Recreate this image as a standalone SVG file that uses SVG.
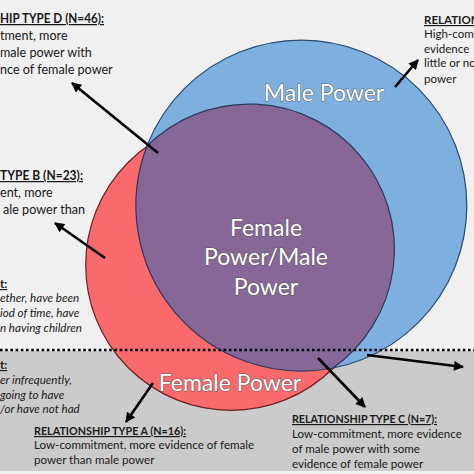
<svg xmlns="http://www.w3.org/2000/svg" width="474" height="474" viewBox="0 0 474 474">
  <defs>
    <style>
      .h { font-family: Lato, "Liberation Sans", sans-serif; font-weight: bold; font-size: 11.5px; text-decoration: underline; fill: #1a1a1a; }
      .t { font-family: Lato, "Liberation Sans", sans-serif; font-size: 11.6px; fill: #1a1a1a; }
      .big { font-size: 12.6px; }
      .hb { font-size: 12.4px; }
      .it { font-style: italic; }
      .lbl { font-family: Lato, "Liberation Sans", sans-serif; font-size: 23px; fill: #ffffff; stroke: #5a5a5a; stroke-width: 1; paint-order: stroke; text-anchor: middle; }
      .arr { stroke: #000; stroke-width: 2.6; fill: none; marker-end: url(#ah); }
    </style>
    <marker id="ah" viewBox="0 0 10 10" refX="9" refY="5" markerWidth="11" markerHeight="10" markerUnits="userSpaceOnUse" orient="auto">
      <path d="M0,0 L10,5 L0,10 z" fill="#000"/>
    </marker>
  </defs>

  <!-- background -->
  <rect x="0" y="0" width="474" height="474" fill="#f0f0f0"/>
  <rect x="0" y="351" width="474" height="120" fill="#cbcbcb"/>

  <g id="male-power">
    <circle cx="301.3" cy="205.6" r="165.5" fill="#7db0df" stroke="#2c4a6e" stroke-width="1.2"/>
  </g>
  <g id="female-power">
    <circle cx="231" cy="265" r="145.3" fill="#f86a6b" stroke="#6e1f22" stroke-width="1.2"/>
  </g>
  <g id="female-male-power">
    <path d="M147,146 A145.3,145.3 0 1 1 333,368 A165.5,165.5 0 0 1 147,146 Z" fill="#876698" stroke="#2c3a5e" stroke-width="1.2"/>
  </g>

  <line x1="0" y1="350" x2="474" y2="350" stroke="#000" stroke-width="2.6" stroke-dasharray="2.6 2.6"/>

  <g id="circle-labels">
    <text class="lbl" x="324" y="101">Male Power</text>
    <text class="lbl" x="266" y="236">Female</text>
    <text class="lbl" x="266" y="265">Power/Male</text>
    <text class="lbl" x="266" y="295">Power</text>
    <text class="lbl" x="230" y="391">Female Power</text>
  </g>

  <g id="connectors">
    <line class="arr" x1="158" y1="153" x2="72" y2="83"/>
    <line class="arr" x1="395" y1="87" x2="418" y2="60"/>
    <line class="arr" x1="105" y1="258" x2="55" y2="223"/>
    <line class="arr" x1="153" y1="383" x2="126" y2="422"/>
    <line class="arr" x1="318" y1="358" x2="365" y2="407"/>
    <line class="arr" x1="367" y1="355" x2="463" y2="367"/>
  </g>

  <g id="type-d">
    <text class="h hb" x="0" y="23" textLength="104" lengthAdjust="spacingAndGlyphs">HIP TYPE D (N=46):</text>
    <text class="t big" x="0" y="40">tment, more</text>
    <text class="t big" x="0" y="57">male power with</text>
    <text class="t big" x="0" y="74">nce of female power</text>
  </g>

  <g id="type-e">
    <text class="h" x="424" y="24">RELATION</text>
    <text class="t" x="424" y="38">High-com</text>
    <text class="t" x="424" y="53">evidence</text>
    <text class="t" x="424" y="67">little or no</text>
    <text class="t" x="424" y="83">power</text>
  </g>

  <g id="type-b">
    <text class="h hb" x="0" y="180" textLength="83" lengthAdjust="spacingAndGlyphs">TYPE B (N=23):</text>
    <text class="t big" x="0" y="197">ent, more</text>
    <text class="t big" x="3" y="214">ale power than</text>
  </g>

  <g id="high-commitment">
    <text class="h" x="0" y="288">t:</text>
    <text class="t it" x="0" y="302">ether, have been</text>
    <text class="t it" x="0" y="317">iod of time, have</text>
    <text class="t it" x="0" y="332">n having children</text>
  </g>

  <g id="low-commitment">
    <text class="h" x="0" y="369">t:</text>
    <text class="t it" x="0" y="384">er infrequently,</text>
    <text class="t it" x="0" y="399">going to have</text>
    <text class="t it" x="0" y="413">/or have not had</text>
  </g>

  <g id="type-a">
    <text class="h" x="34" y="435" textLength="152" lengthAdjust="spacingAndGlyphs">RELATIONSHIP TYPE A (N=16):</text>
    <text class="t" x="34" y="449">Low-commitment, more evidence of female</text>
    <text class="t" x="34" y="464">power than male power</text>
  </g>

  <g id="type-c">
    <text class="h" x="292" y="423" textLength="145" lengthAdjust="spacingAndGlyphs">RELATIONSHIP TYPE C (N=7):</text>
    <text class="t" x="292" y="438">Low-commitment, more evidence</text>
    <text class="t" x="292" y="453">of male power with some</text>
    <text class="t" x="292" y="468">evidence of female power</text>
  </g>
</svg>
